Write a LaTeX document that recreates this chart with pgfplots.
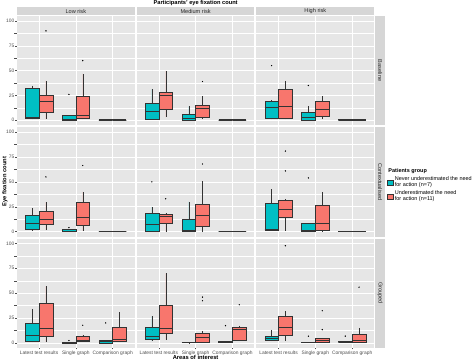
\documentclass[border=0pt]{standalone}
\usepackage{pgfplots}
\pgfplotsset{compat=1.18}
\usepgfplotslibrary{groupplots,statistics}
\usepackage{fontspec}
\setmainfont{Liberation Sans}
\definecolor{tealc}{HTML}{00BFC4}
\definecolor{salm}{HTML}{F8766D}
\definecolor{panelbg}{HTML}{E6E6E6}
\definecolor{stripbg}{HTML}{D6D6D6}
\definecolor{boxline}{HTML}{333333}
\definecolor{ticktxt}{HTML}{4D4D4D}
% #1 colour, #2 position, #3 lower whisker, #4 q1, #5 median, #6 q3, #7 upper whisker, #8 outliers
\newcommand{\bp}[8]{\addplot[boxplot prepared={draw position=#2, lower whisker=#3, lower quartile=#4, median=#5, upper quartile=#6, upper whisker=#7}, fill=#1, draw=boxline, line width=0.35pt, mark=*, mark size=0.45pt, mark options={fill=black,draw=black}] coordinates {#8};}
\pgfplotsset{
 notleft/.style={yticklabels={}, ytick style={draw=none}},
 notbottom/.style={xticklabels={}, xtick style={draw=none}},
 bottomrow/.style={xticklabels={Latest test results,Single graph,Comparison graph}},
 rowstrip/.style={after end axis/.append code={
   \node[rotate=-90, anchor=south, fill=stripbg, minimum width=109.5pt, minimum height=9.5pt, inner sep=0pt, font=\fontsize{5.6}{6}\selectfont, text=black!85] at ([xshift=1pt]rel axis cs:1,0.5) {#1};}},
 keybox/.style={legend image code/.code={\draw[##1] (0pt,-2.6pt) rectangle (5.2pt,2.6pt);}},
}
\begin{document}
\begin{tikzpicture}
\begin{groupplot}[
 group style={group size=3 by 3, horizontal sep=2pt, vertical sep=2pt},
 scale only axis, width=118pt, height=109.5pt,
 xmin=0.4, xmax=3.6, ymin=-5, ymax=105,
 xtick={1,2,3}, ytick={0,25,50,75,100}, minor ytick={12.5,37.5,62.5,87.5},
 grid=both, major grid style={white, line width=0.5pt}, minor grid style={white, line width=0.25pt},
 axis background/.style={fill=panelbg},
 axis line style={draw=none},
 tick align=outside, tick pos=left, major tick length=1.5pt,
 tick style={draw=ticktxt, line width=0.3pt},
 tick label style={font=\fontsize{4.9}{5}\selectfont, text=ticktxt, inner sep=1pt},
 /pgf/number format/assume math mode=true,
 every axis title/.style={at={([yshift=0.5pt]rel axis cs:0.5,1)}, anchor=south, fill=stripbg, minimum width=118pt, minimum height=8pt, inner sep=0pt, font=\fontsize{5.6}{6}\selectfont, text=black!85},
 boxplot/draw direction=y,
 boxplot/box extend=0.375, boxplot/whisker extend=0,
 boxplot/every median/.style={line width=0.9pt},
 clip=false,
]
% ---------------- Row 1: Baseline ----------------
\nextgroupplot[title={Low risk}, notbottom]
\coordinate (bbtl) at (rel axis cs:0,1);
\bp{tealc}{0.8125}{1}{2}{3}{32}{35}{}
\bp{salm}{1.1875}{1}{8}{19}{25}{40}{(0,90)}
\bp{tealc}{1.8125}{0}{0}{1}{5}{5}{(0,26)}
\bp{salm}{2.1875}{1}{2.5}{5}{24}{47}{(0,60)}
\bp{tealc}{2.8125}{0.5}{0.5}{0.5}{0.5}{0.5}{}
\bp{salm}{3.1875}{0.5}{0.5}{0.5}{0.5}{0.5}{}
\nextgroupplot[title={Medium risk}, notbottom, notleft,
 after end axis/.append code={\node[font=\bfseries\fontsize{5.7}{6}\selectfont, anchor=south, inner sep=0pt] at ([yshift=10pt]rel axis cs:0.5,1) {Participants' eye fixation count};}]
\bp{tealc}{0.8125}{1}{1}{9}{17}{31}{}
\bp{salm}{1.1875}{3}{11}{25}{28}{50}{}
\bp{tealc}{1.8125}{0}{0}{2}{6}{14}{}
\bp{salm}{2.1875}{1}{3.5}{12}{15}{24}{(0,39)}
\bp{tealc}{2.8125}{0.5}{0.5}{0.5}{0.5}{0.5}{}
\bp{salm}{3.1875}{0.5}{0.5}{0.5}{0.5}{0.5}{}
\nextgroupplot[title={High risk}, notbottom, notleft, rowstrip={Baseline}]
\bp{tealc}{0.8125}{1}{2.5}{13}{19}{20}{(0,55)}
\bp{salm}{1.1875}{1}{2.5}{14}{31}{40}{}
\bp{tealc}{1.8125}{0}{0}{3}{8}{14}{(0,35)}
\bp{salm}{2.1875}{1}{4.5}{11}{19}{24}{}
\bp{tealc}{2.8125}{0.5}{0.5}{0.5}{0.5}{0.5}{}
\bp{salm}{3.1875}{0.5}{0.5}{0.5}{0.5}{0.5}{}
% ---------------- Row 2: Contextualised ----------------
\nextgroupplot[notbottom, ylabel={Eye fixation count},
 every axis y label/.style={at={([xshift=-12pt]rel axis cs:0,0.5)}, rotate=90, anchor=center, inner sep=0pt, font=\bfseries\fontsize{5.8}{6}\selectfont}]
\bp{tealc}{0.8125}{0.7}{2.5}{8.5}{16}{23.5}{}
\bp{salm}{1.1875}{1.5}{7.5}{12}{21}{29.5}{(0,55)}
\bp{tealc}{1.8125}{0}{0}{0.5}{2}{2}{(0,4)}
\bp{salm}{2.1875}{0.7}{6}{14.5}{29.5}{40}{(0,66.5)}
\bp{tealc}{2.8125}{0.5}{0.5}{0.5}{0.5}{0.5}{}
\bp{salm}{3.1875}{0.5}{0.5}{0.5}{0.5}{0.5}{}
\nextgroupplot[notbottom, notleft]
\bp{tealc}{0.8125}{0}{0}{7.5}{18.5}{25}{(0,50)}
\bp{salm}{1.1875}{0}{8.5}{15}{17}{18.5}{(0,33)}
\bp{tealc}{1.8125}{0}{0}{1.5}{12.5}{30}{}
\bp{salm}{2.1875}{0}{5}{16}{28}{51}{(0,68)}
\bp{tealc}{2.8125}{0.5}{0.5}{0.5}{0.5}{0.5}{}
\bp{salm}{3.1875}{0.5}{0.5}{0.5}{0.5}{0.5}{}
\nextgroupplot[notbottom, notleft, rowstrip={Contextualised},
 legend style={at={(1.11,0.64)}, anchor=north west, draw=none, fill=none, font=\fontsize{5.5}{6}\selectfont, cells={anchor=west, align=left, inner sep=0.6pt}, row sep=-1.5pt, column sep=0pt, inner sep=0pt},
 legend entries={{\hspace{-6.4pt}\textbf{Patients group}},{Never underestimated the need\\for action (n=7)},{Underestimated the need\\for action (n=11)}}]
\addlegendimage{empty legend}
\addlegendimage{keybox, fill=tealc, draw=boxline, line width=0.3pt}
\addlegendimage{keybox, fill=salm, draw=boxline, line width=0.3pt}
\bp{tealc}{0.8125}{1.5}{1.5}{2.5}{29}{42.5}{}
\bp{salm}{1.1875}{0.7}{14}{22.5}{32}{33}{(0,61) (0,81)}
\bp{tealc}{1.8125}{0}{0}{0.7}{8}{8}{(0,54)}
\bp{salm}{2.1875}{0}{1.5}{8}{27}{40}{}
\bp{tealc}{2.8125}{0.5}{0.5}{0.5}{0.5}{0.5}{}
\bp{salm}{3.1875}{0.5}{0.5}{0.5}{0.5}{0.5}{}
% ---------------- Row 3: Grouped ----------------
\nextgroupplot[bottomrow]
\bp{tealc}{0.8125}{0.7}{1.7}{7.3}{19.3}{34}{}
\bp{salm}{1.1875}{0.7}{6.7}{14}{40}{56.7}{}
\bp{tealc}{1.8125}{0}{0}{0.3}{1}{1}{(0,2.3)}
\bp{salm}{2.1875}{1.7}{1.7}{2.7}{7}{8.3}{(0,17.7)}
\bp{tealc}{2.8125}{0}{0}{1}{2.3}{2.3}{(0,20)}
\bp{salm}{3.1875}{0.7}{1.7}{3.3}{16}{30.7}{}
\nextgroupplot[bottomrow, notleft, xlabel={Areas of interest}, xlabel style={font=\bfseries\fontsize{5.8}{6}\selectfont, yshift=4.5pt}]
\bp{tealc}{0.8125}{1.7}{3.3}{6}{16}{26.7}{}
\bp{salm}{1.1875}{3.3}{10}{14}{37.7}{70}{}
\bp{tealc}{1.8125}{0}{0.3}{0.7}{0.7}{0.7}{}
\bp{salm}{2.1875}{1}{1}{5}{10}{11.7}{(0,42.3) (0,46)}
\bp{tealc}{2.8125}{0.7}{1}{1.3}{1.3}{1.3}{(0,17.3)}
\bp{salm}{3.1875}{2.3}{2.3}{13.3}{16}{17.3}{(0,38.3)}
\nextgroupplot[bottomrow, notleft, rowstrip={Grouped}]
\coordinate (bbbr) at (rel axis cs:1,0);
\bp{tealc}{0.8125}{1.7}{2.7}{4.7}{6.7}{13.3}{}
\bp{salm}{1.1875}{1.7}{7.7}{15.3}{27.3}{31.7}{(0,97.7)}
\bp{tealc}{1.8125}{0}{0.5}{0.7}{0.7}{0.7}{(0,6.7)}
\bp{salm}{2.1875}{0.7}{0.7}{2.7}{5}{5}{(0,13.3) (0,32.3)}
\bp{tealc}{2.8125}{0.7}{1}{1}{1}{1}{(0,6.7)}
\bp{salm}{3.1875}{1}{1}{2.3}{9}{15}{(0,56)}
\end{groupplot}
\pgfresetboundingbox
\path ([xshift=-17pt,yshift=16pt]bbtl) rectangle ([xshift=100pt,yshift=-13pt]bbbr);
\end{tikzpicture}
\end{document}
